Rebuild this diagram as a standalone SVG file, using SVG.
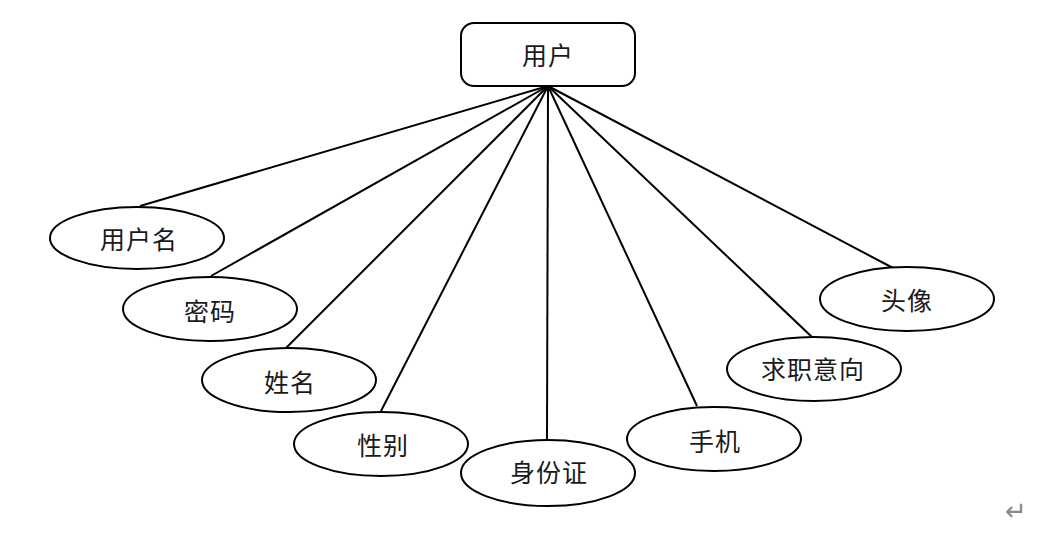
<svg xmlns="http://www.w3.org/2000/svg" width="1044" height="534" viewBox="0 0 1044 534">
<style>
.shape{fill:#ffffff;stroke:#000000;stroke-width:2}
.lbl{font-family:"Noto Sans CJK SC","Noto Sans",sans-serif;font-size:25px;fill:#1a1a1a;text-anchor:middle;dominant-baseline:central;letter-spacing:1px}
.conn line{stroke:#000000;stroke-width:2}
</style>
<rect width="1044" height="534" fill="#ffffff"/>
<g class="conn" id="connectors">
<line x1="548" y1="86" x2="140" y2="206"/>
<line x1="548" y1="86" x2="211" y2="276"/>
<line x1="548" y1="86" x2="286" y2="348"/>
<line x1="548" y1="86" x2="381" y2="411"/>
<line x1="548" y1="86" x2="547" y2="440"/>
<line x1="548" y1="86" x2="697" y2="406"/>
<line x1="548" y1="86" x2="813" y2="338"/>
<line x1="548" y1="86" x2="893" y2="268"/>
</g>
<g id="user">
<rect class="shape" x="461" y="23" width="174" height="63" rx="13"/>
<text class="lbl" x="548" y="54">用户</text>
</g>
<g id="username">
<ellipse class="shape" cx="137" cy="238" rx="87" ry="31"/>
<text class="lbl" x="139" y="238">用户名</text>
</g>
<g id="password">
<ellipse class="shape" cx="210" cy="309" rx="87" ry="32"/>
<text class="lbl" x="210" y="310">密码</text>
</g>
<g id="name">
<ellipse class="shape" cx="289" cy="380" rx="87" ry="32"/>
<text class="lbl" x="290" y="381">姓名</text>
</g>
<g id="gender">
<ellipse class="shape" cx="381" cy="444" rx="87" ry="32"/>
<text class="lbl" x="383" y="444">性别</text>
</g>
<g id="idcard">
<ellipse class="shape" cx="548" cy="473" rx="87" ry="33"/>
<text class="lbl" x="549" y="471">身份证</text>
</g>
<g id="phone">
<ellipse class="shape" cx="714" cy="439" rx="87" ry="32"/>
<text class="lbl" x="715" y="440">手机</text>
</g>
<g id="intention">
<ellipse class="shape" cx="814" cy="369" rx="87" ry="32"/>
<text class="lbl" x="813" y="368">求职意向</text>
</g>
<g id="avatar">
<ellipse class="shape" cx="907" cy="299" rx="87" ry="32"/>
<text class="lbl" x="907" y="299">头像</text>
</g>
<text x="1016" y="511" style="font-family:'DejaVu Sans',sans-serif;font-size:26px;fill:#888888;text-anchor:middle;dominant-baseline:central">↵</text>
</svg>
